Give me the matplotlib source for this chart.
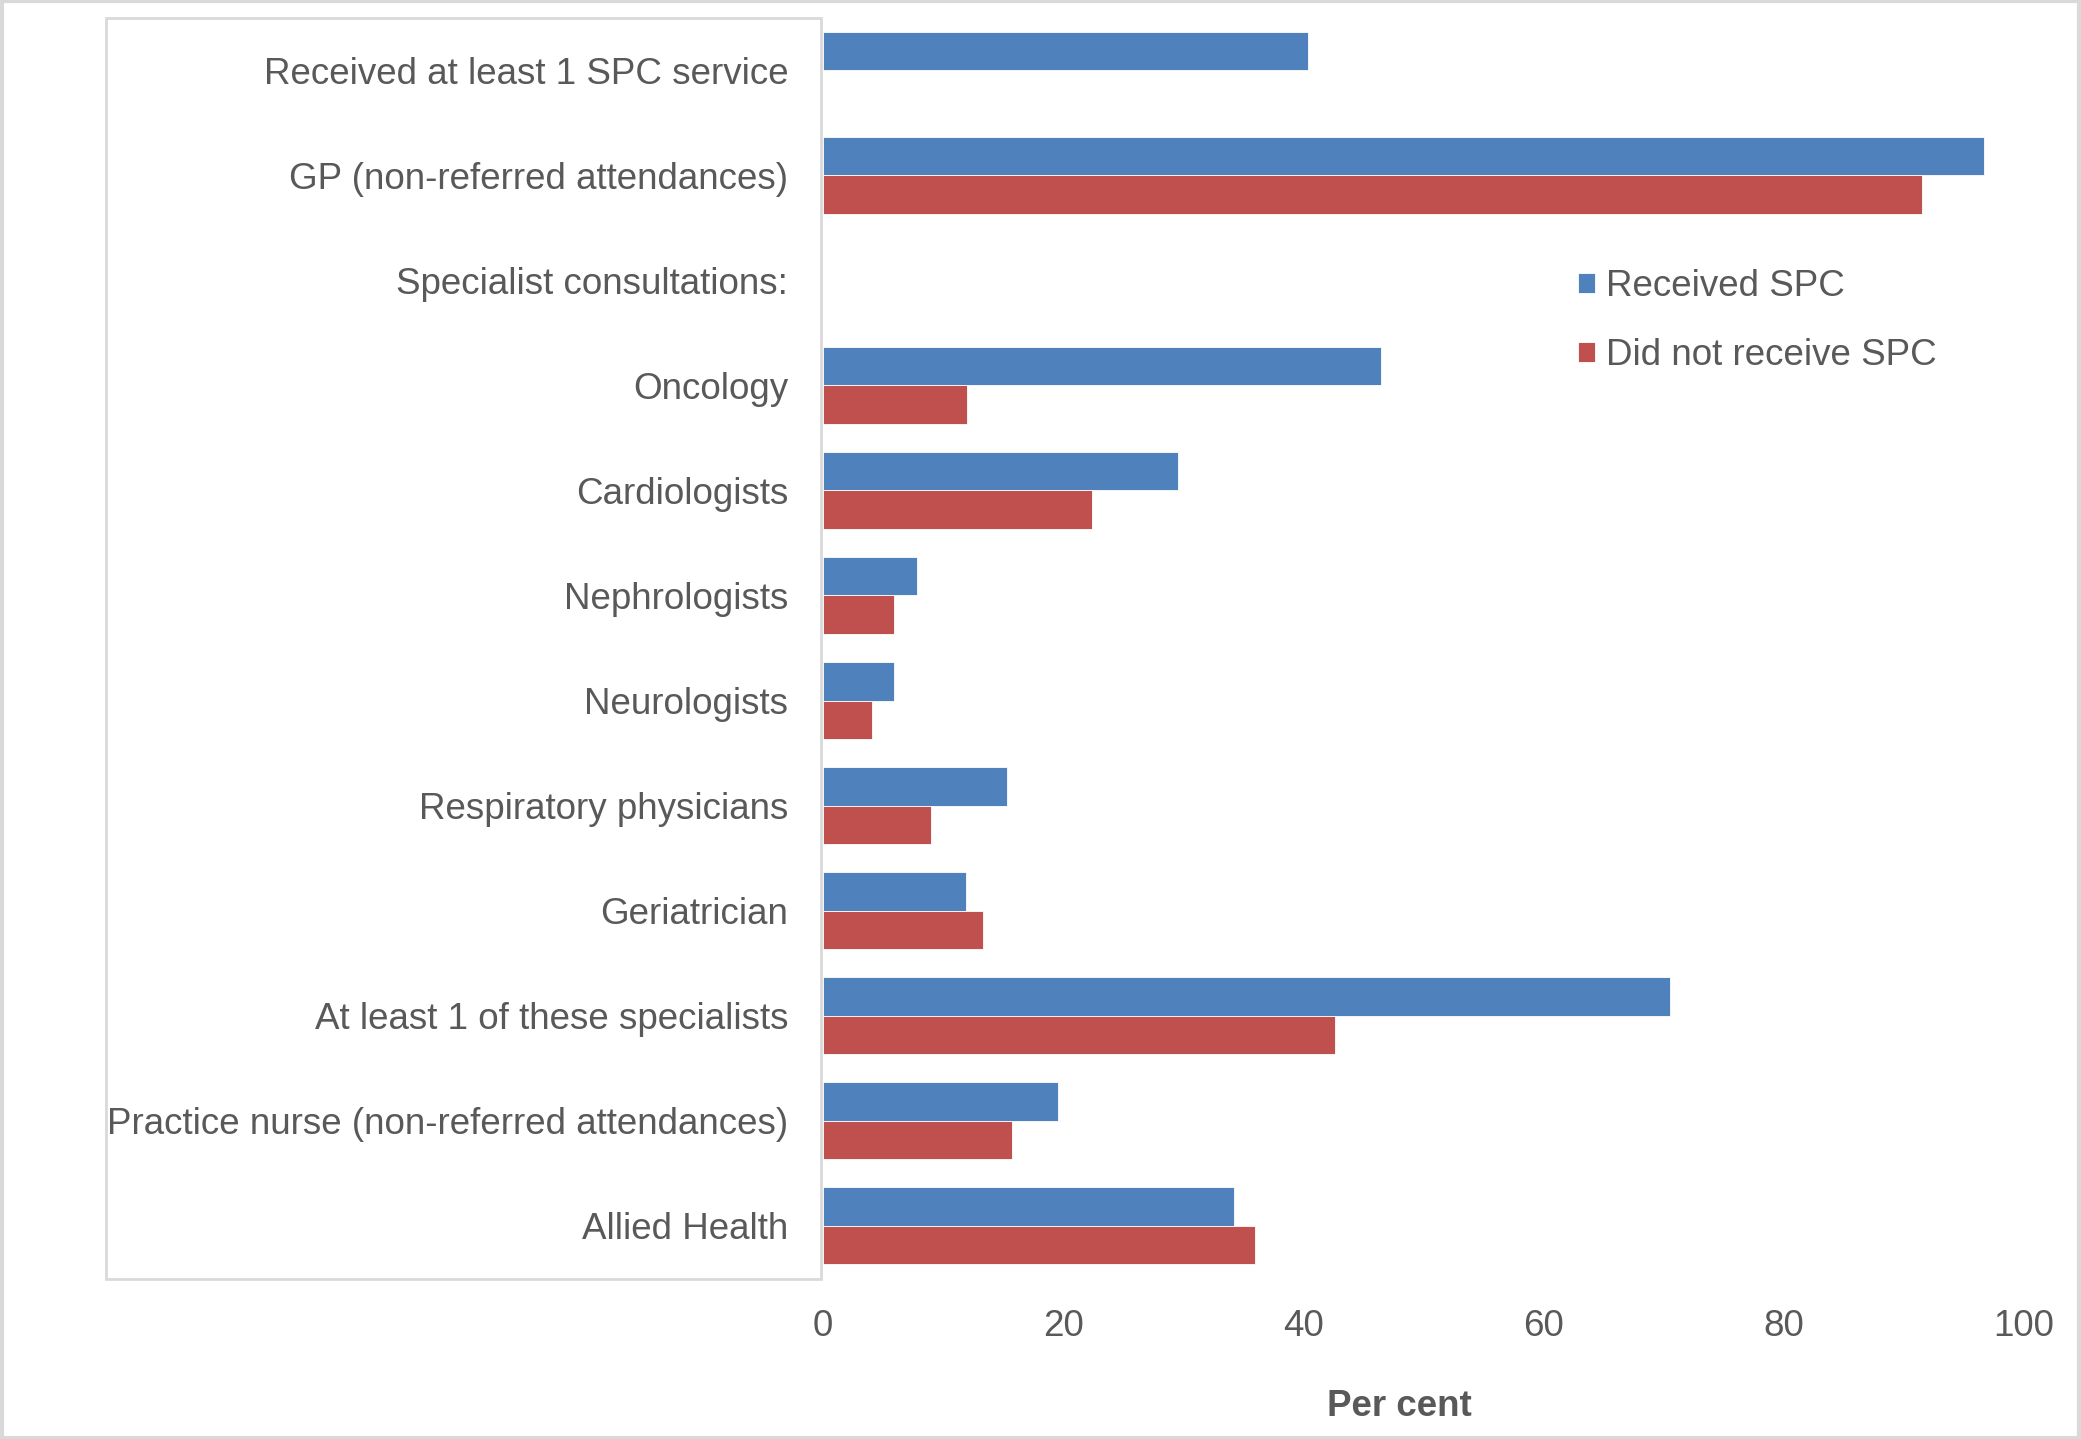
import matplotlib.pyplot as plt
from matplotlib.patches import Rectangle
import numpy as np

plt.rcParams['font.family'] = ['Liberation Sans', 'DejaVu Sans']

# Datos (por ciento)
categorias = [
    "Received at least 1 SPC service",
    "GP (non-referred attendances)",
    "Specialist consultations:",
    "Oncology",
    "Cardiologists",
    "Nephrologists",
    "Neurologists",
    "Respiratory physicians",
    "Geriatrician",
    "At least 1 of these specialists",
    "Practice nurse (non-referred attendances)",
    "Allied Health",
]
recibio_spc = [40.4, 96.7, 0, 46.5, 29.6, 7.8, 5.9, 15.3, 11.9, 70.5, 19.6, 34.2]
no_recibio_spc = [0, 91.5, 0, 12.0, 22.4, 5.9, 4.1, 9.0, 13.3, 42.6, 15.7, 36.0]
ticks_x = [0, 20, 40, 60, 80, 100]

azul = '#4F81BD'
rojo = '#C0504D'
gris_texto = '#595959'
gris_linea = '#D9D9D9'
tam = 26.5

W, H = 2081, 1439
fig = plt.figure(figsize=(W / 100, H / 100), dpi=100)

# Área del gráfico en píxeles
x0, x1 = 823, 2024
y_top, y_bot = 17.5, 1278.5
alto_px = y_bot - y_top
ax = fig.add_axes([x0 / W, 1 - y_bot / H, (x1 - x0) / W, alto_px / H])

n = len(categorias)
pos = np.arange(n)
alto = 0.366

ax.barh(pos - alto / 2, recibio_spc, height=alto, color=azul,
        edgecolor='white', linewidth=0.6, label='Received SPC')
ax.barh(pos + alto / 2, no_recibio_spc, height=alto, color=rojo,
        edgecolor='white', linewidth=0.6, label='Did not receive SPC')

ax.set_ylim(n - 0.5, -0.5)
ax.set_xlim(0, 100)
ax.set_yticks(pos)
ax.set_yticklabels(categorias)
ax.set_xticks(ticks_x)

for s in ax.spines.values():
    s.set_visible(False)

ax.tick_params(axis='y', length=0, pad=25, labelsize=tam, labelcolor=gris_texto)
ax.tick_params(axis='x', length=0, pad=22, labelsize=tam, labelcolor=gris_texto)

ax.set_xlabel('Per cent', fontsize=tam, fontweight='bold', color=gris_texto)
ax.xaxis.set_label_coords((1399 - x0) / (x1 - x0), -(1389 - y_bot) / alto_px)

leg = ax.legend(loc='upper left',
                bbox_to_anchor=((1578 - x0) / (x1 - x0), 1 - (269 - y_top) / alto_px),
                frameon=False, fontsize=tam, handlelength=0.45, handleheight=0.45,
                handletextpad=0.3, labelspacing=0.93, borderaxespad=0, borderpad=0)
for t in leg.get_texts():
    t.set_color(gris_texto)

# Caja alrededor de las etiquetas
fig.add_artist(Rectangle((106 / W, 1 - 1279 / H), (821 - 106) / W, (1279 - 18) / H,
                         transform=fig.transFigure, fill=False,
                         edgecolor=gris_linea, linewidth=2))
# Marco exterior
fig.add_artist(Rectangle((0.001, 0.001), 0.998, 0.998, transform=fig.transFigure,
                         fill=False, edgecolor=gris_linea, linewidth=3))

fig.savefig('out.png', dpi=100)
